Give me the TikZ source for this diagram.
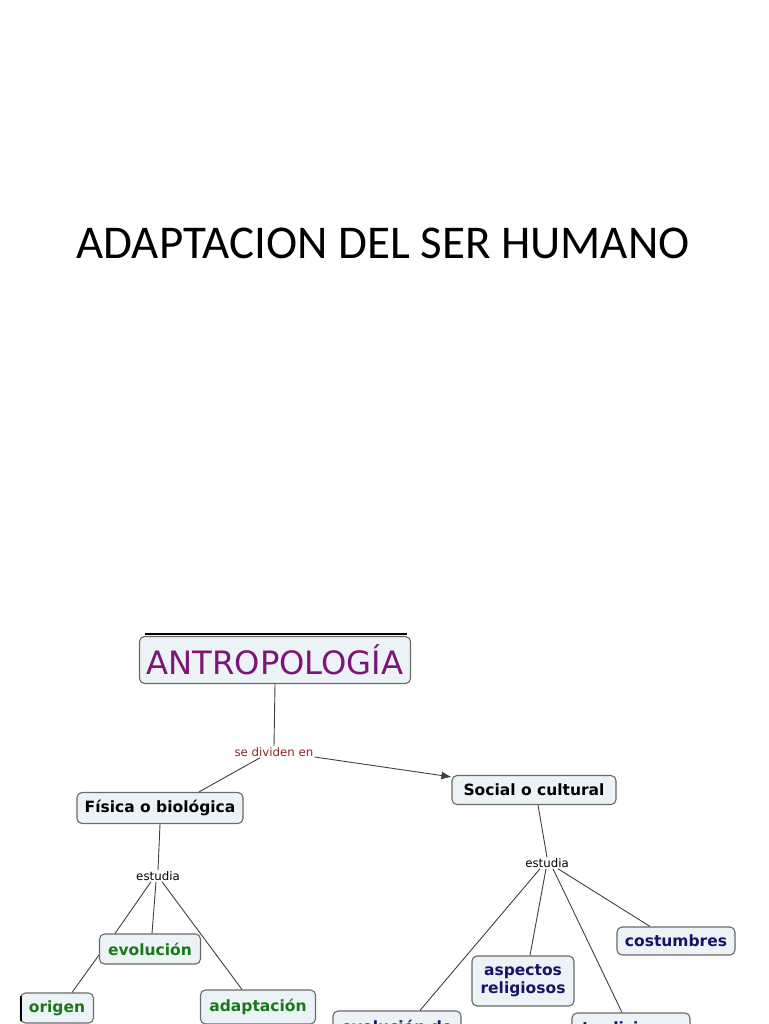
\documentclass[tikz,border=0pt]{standalone}
\usepackage{fontspec}
\usetikzlibrary{arrows.meta}
\setmainfont{DejaVu Sans}
\newfontfamily\titlefont{Carlito}
\definecolor{boxfill}{RGB}{236,243,246}
\definecolor{boxline}{RGB}{105,105,105}
\definecolor{linkred}{RGB}{140,40,40}
\definecolor{biogreen}{RGB}{25,120,25}
\definecolor{socnavy}{RGB}{20,20,105}
\definecolor{antpurple}{RGB}{125,20,120}
\begin{document}
\begin{tikzpicture}[x=1pt,y=-1pt,
    concept/.style={draw=boxline,fill=boxfill,rounded corners=5pt,line width=1.1pt,
      inner sep=2pt,align=center,minimum height=30pt,font=\bfseries\fontsize{15.5}{18}\selectfont},
    linklabel/.style={inner sep=1pt,font=\fontsize{11.8}{13}\selectfont},
    link/.style={draw=black!75,line width=0.9pt}]
    \fill[white] (0,0) rectangle (768,1024);
    \clip (0,0) rectangle (768,1024);
    \node (titulo) at (383,243) {\titlefont\fontsize{47}{54}\selectfont ADAPTACION DEL SER HUMANO};
    % mapa conceptual
    \draw[line width=2pt] (145,634) -- (407,634);
    \node[concept,minimum width=271pt,minimum height=47pt,text=antpurple,font=\fontsize{32.2}{38}\selectfont] (ant) at (275,660) {ANTROPOLOGÍA};
    \node[linklabel,text=linkred] (div) at (274,752) {se dividen en};
    \node[concept,minimum width=166pt,minimum height=31pt] (fis) at (160,808) {Física o biológica};
    \node[concept,minimum width=164pt,minimum height=29pt] (soc) at (534,790) {Social o cultural};
    \draw[link] (ant.south) -- (div.north);
    \draw[link] ([xshift=-14pt]div.south) -- ([xshift=39pt]fis.north);
    \draw[link,-{Latex[length=10pt,width=8pt]}] ([yshift=-5pt]div.east) -- ([yshift=-2pt]soc.north west);
    % rama biologica
    \node[linklabel] (est1) at (158,876) {estudia};
    \node[concept,minimum width=101pt,text=biogreen] (evo) at (150,949) {evolución};
    \node[concept,minimum width=73pt,text=biogreen] (ori) at (57,1008) {origen};
    \node[concept,minimum width=115pt,minimum height=34pt,text=biogreen] (ada) at (258,1007) {adaptación};
    \draw[line width=2pt] (21,996) -- (21,1021);
    \draw[link] (fis.south) -- (est1.north);
    \draw[link] ([xshift=-7pt]est1.south) -- ([xshift=-35pt]evo.north);
    \draw[link] ([xshift=-2pt]est1.south) -- ([xshift=2pt]evo.north);
    \draw[link] ([xshift=4pt]est1.south) -- ([xshift=-16pt]ada.north);
    \draw[link] ([yshift=-6pt]evo.west) -- ([xshift=15pt]ori.north);
    % rama social
    \node[linklabel] (est2) at (547,863) {estudia};
    \node[concept,minimum width=118pt,minimum height=28pt,text=socnavy] (cos) at (676,941) {costumbres};
    \node[concept,minimum width=102pt,minimum height=50pt,text=socnavy] (asp) at (523,981) {aspectos\\religiosos};
    \node[concept,minimum width=128pt,text=socnavy] (evd) at (397,1026) {evolución de};
    \node[concept,minimum width=118pt,text=socnavy] (tra) at (631,1028) {tradiciones};
    \draw[link] ([xshift=4pt]soc.south) -- (est2.north);
    \draw[link] ([xshift=-7pt]est2.south) -- ([xshift=23pt]evd.north);
    \draw[link] ([xshift=-1pt]est2.south) -- ([xshift=7pt]asp.north);
    \draw[link] ([xshift=6pt]est2.south) -- ([xshift=-9pt]tra.north);
    \draw[link] ([xshift=11pt]est2.south) -- ([xshift=-26pt]cos.north);
\end{tikzpicture}
\end{document}
